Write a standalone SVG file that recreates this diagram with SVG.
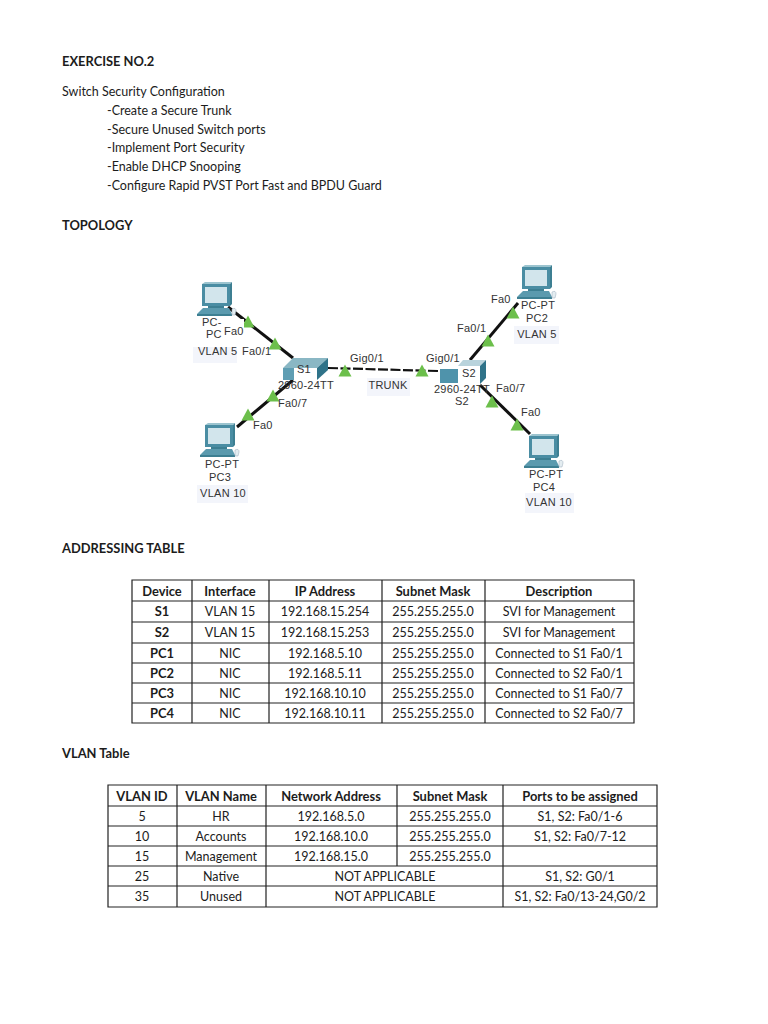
<svg xmlns="http://www.w3.org/2000/svg" width="768" height="1024" viewBox="0 0 768 1024">
<style>
text{font-family:"Lato","Carlito","Liberation Sans",sans-serif;font-size:12.5px;fill:#1c1c1c}
.b{font-weight:700;font-size:12.9px}
.c{text-anchor:middle}
.t text{font-family:"Liberation Sans",Arial,sans-serif;font-size:11px;fill:#333;letter-spacing:.25px}
.t .m{text-anchor:middle}
.grid{stroke:#222;stroke-width:1.2;fill:none}
.lbg{fill:#f3f5fb}
.cable{stroke:#111;stroke-width:3;fill:none}
.trunk{stroke:#111;stroke-width:2.2;fill:none;stroke-dasharray:10 2.5}
.tri{fill:#6cbf4b}
</style>
<defs>
<g id="pc">
<polygon points="0,2 3,0 30,0 28,2" fill="#9cc4cf"/>
<polygon points="28,2 30,0 30,22 28,24" fill="#3d7f92"/>
<rect x="0" y="2" width="28" height="22" fill="#4a8da3"/>
<rect x="3" y="5" width="22" height="16" fill="#d2e5ec"/>
<rect x="6" y="24" width="16" height="2" fill="#3d7f92"/>
<polygon points="1,26 27,26 30,32 -5,32" fill="#5b9aae"/>
<rect x="-5" y="32" width="35" height="2" fill="#3d7f92"/>
<path d="M30 27q4-2 4 2l-1 4h-3z" fill="#e4edf1" stroke="#9ab" stroke-width=".5"/>
</g>
<polygon id="tr" points="0,-6.5 6.5,5.5 -6.5,5.5" class="tri"/>
</defs>

<g id="heading">
<text class="b" x="62" y="66">EXERCISE NO.2</text>
<text x="62" y="96">Switch Security Configuration</text>
<text x="107" y="115">-Create a Secure Trunk</text>
<text x="107" y="134">-Secure Unused Switch ports</text>
<text x="107" y="152">-Implement Port Security</text>
<text x="107" y="171">-Enable DHCP Snooping</text>
<text x="107" y="190">-Configure Rapid PVST Port Fast and BPDU Guard</text>
<text class="b" x="62" y="230">TOPOLOGY</text>
<text class="b" x="62" y="553">ADDRESSING TABLE</text>
<text class="b" x="62" y="758">VLAN Table</text>
</g>

<g id="connectors">
<path class="cable" d="M228 307L293 358"/>
<path class="cable" d="M237 427L293 380"/>
<path class="cable" d="M518 303L470 360"/>
<path class="cable" d="M480 385L530 434"/>
<path class="trunk" d="M328 368L438 371"/>
<use href="#tr" x="248" y="322"/>
<use href="#tr" x="275" y="344"/>
<use href="#tr" x="273" y="396"/>
<use href="#tr" x="248" y="415"/>
<use href="#tr" x="345" y="371"/>
<use href="#tr" x="422" y="371"/>
<use href="#tr" x="513" y="313"/>
<use href="#tr" x="488" y="341"/>
<use href="#tr" x="492" y="402"/>
<use href="#tr" x="517" y="425"/>
</g>

<g class="t">
<g id="PC1">
<use href="#pc" x="202" y="282"/>
<rect x="222" y="319" width="22" height="20" fill="#fff"/>
<rect class="lbg" x="193" y="347" width="44" height="16"/>
<text x="202" y="326">PC-</text>
<text x="206" y="338">PC</text>
<text x="224" y="335">Fa0</text>
<text x="198" y="355">VLAN 5</text>
<text x="242" y="355">Fa0/1</text>
</g>
<g id="PC3">
<use href="#pc" x="205" y="423"/>
<rect class="lbg" x="197" y="485" width="51" height="18"/>
<text class="m" x="222" y="468">PC-PT</text>
<text class="m" x="220" y="481">PC3</text>
<text class="m" x="223" y="497">VLAN 10</text>
<text x="253" y="429">Fa0</text>
<text x="278" y="407">Fa0/7</text>
</g>
<g id="S1">
<polygon points="293,358 328,358 317,368 283,368" fill="#8ab7c4"/>
<polygon points="317,368 328,358 328,370 317,380" fill="#2f7389"/>
<rect x="283" y="368" width="34" height="12" fill="#fff"/>
<rect x="283" y="368" width="11" height="12" fill="#5f9eb3"/>
<text class="m" x="304" y="373">S1</text>
<text class="m" x="306" y="389">2960-24TT</text>
</g>
<g id="S2">
<rect x="440" y="369" width="18" height="14" fill="#4f93ab"/>
<rect x="458" y="366" width="22" height="18" fill="#fff"/>
<polygon points="463,360 486,360 480,366 458,366" fill="#b9d3dc"/>
<polygon points="480,366 486,360 486,378 480,384" fill="#2f7389"/>
<text class="m" x="469" y="377">S2</text>
<text x="434" y="393">2960-24TT</text>
<text class="m" x="462" y="405">S2</text>
<text x="496" y="392">Fa0/7</text>
</g>
<g id="PC2">
<use href="#pc" x="522" y="265"/>
<rect class="lbg" x="514" y="326" width="45" height="18"/>
<text class="m" x="538" y="309">PC-PT</text>
<text class="m" x="537" y="322">PC2</text>
<text class="m" x="537" y="338">VLAN 5</text>
<text x="491" y="303">Fa0</text>
<text x="457" y="332">Fa0/1</text>
</g>
<g id="PC4">
<use href="#pc" x="529" y="434"/>
<rect class="lbg" x="525" y="493" width="49" height="20"/>
<text class="m" x="546" y="478">PC-PT</text>
<text class="m" x="544" y="491">PC4</text>
<text class="m" x="549" y="506">VLAN 10</text>
<text x="521" y="416">Fa0</text>
</g>
<g id="trunk-label">
<rect class="lbg" x="367" y="378" width="43" height="18"/>
<text class="m" x="388" y="389">TRUNK</text>
<text x="350" y="362">Gig0/1</text>
<text x="426" y="362">Gig0/1</text>
</g>
</g>

<g id="addressing-table">
<path class="grid" d="M132 580H634V723H132ZM192 580V723M269 580V723M382 580V723M485 580V723M132 601H634M132 622H634M132 643H634M132 663H634M132 683H634M132 703H634"/>
<g class="c">
<text class="b" x="162" y="596">Device</text><text class="b" x="230" y="596">Interface</text><text class="b" x="325" y="596">IP Address</text><text class="b" x="433" y="596">Subnet Mask</text><text class="b" x="559" y="596">Description</text>
<text class="b" x="162" y="616">S1</text><text x="230" y="616">VLAN 15</text><text x="325" y="616">192.168.15.254</text><text x="433" y="616">255.255.255.0</text><text x="559" y="616">SVI for Management</text>
<text class="b" x="162" y="637">S2</text><text x="230" y="637">VLAN 15</text><text x="325" y="637">192.168.15.253</text><text x="433" y="637">255.255.255.0</text><text x="559" y="637">SVI for Management</text>
<text class="b" x="162" y="658">PC1</text><text x="230" y="658">NIC</text><text x="325" y="658">192.168.5.10</text><text x="433" y="658">255.255.255.0</text><text x="559" y="658">Connected to S1 Fa0/1</text>
<text class="b" x="162" y="678">PC2</text><text x="230" y="678">NIC</text><text x="325" y="678">192.168.5.11</text><text x="433" y="678">255.255.255.0</text><text x="559" y="678">Connected to S2 Fa0/1</text>
<text class="b" x="162" y="698">PC3</text><text x="230" y="698">NIC</text><text x="325" y="698">192.168.10.10</text><text x="433" y="698">255.255.255.0</text><text x="559" y="698">Connected to S1 Fa0/7</text>
<text class="b" x="162" y="718">PC4</text><text x="230" y="718">NIC</text><text x="325" y="718">192.168.10.11</text><text x="433" y="718">255.255.255.0</text><text x="559" y="718">Connected to S2 Fa0/7</text>
</g>
</g>

<g id="vlan-table">
<path class="grid" d="M108 785H657V907H108ZM177 785V907M266 785V907M397 785V866M503 785V907M108 806H657M108 826H657M108 846H657M108 866H657M108 886H657"/>
<g class="c">
<text class="b" x="142" y="801">VLAN ID</text><text class="b" x="221" y="801">VLAN Name</text><text class="b" x="331" y="801">Network Address</text><text class="b" x="450" y="801">Subnet Mask</text><text class="b" x="580" y="801">Ports to be assigned</text>
<text x="142" y="821">5</text><text x="221" y="821">HR</text><text x="331" y="821">192.168.5.0</text><text x="450" y="821">255.255.255.0</text><text x="580" y="821">S1, S2: Fa0/1-6</text>
<text x="142" y="841">10</text><text x="221" y="841">Accounts</text><text x="331" y="841">192.168.10.0</text><text x="450" y="841">255.255.255.0</text><text x="580" y="841">S1, S2: Fa0/7-12</text>
<text x="142" y="861">15</text><text x="221" y="861">Management</text><text x="331" y="861">192.168.15.0</text><text x="450" y="861">255.255.255.0</text>
<text x="142" y="881">25</text><text x="221" y="881">Native</text><text x="385" y="881">NOT APPLICABLE</text><text x="580" y="881">S1, S2: G0/1</text>
<text x="142" y="901">35</text><text x="221" y="901">Unused</text><text x="385" y="901">NOT APPLICABLE</text><text x="580" y="901">S1, S2: Fa0/13-24,G0/2</text>
</g>
</g>
</svg>
